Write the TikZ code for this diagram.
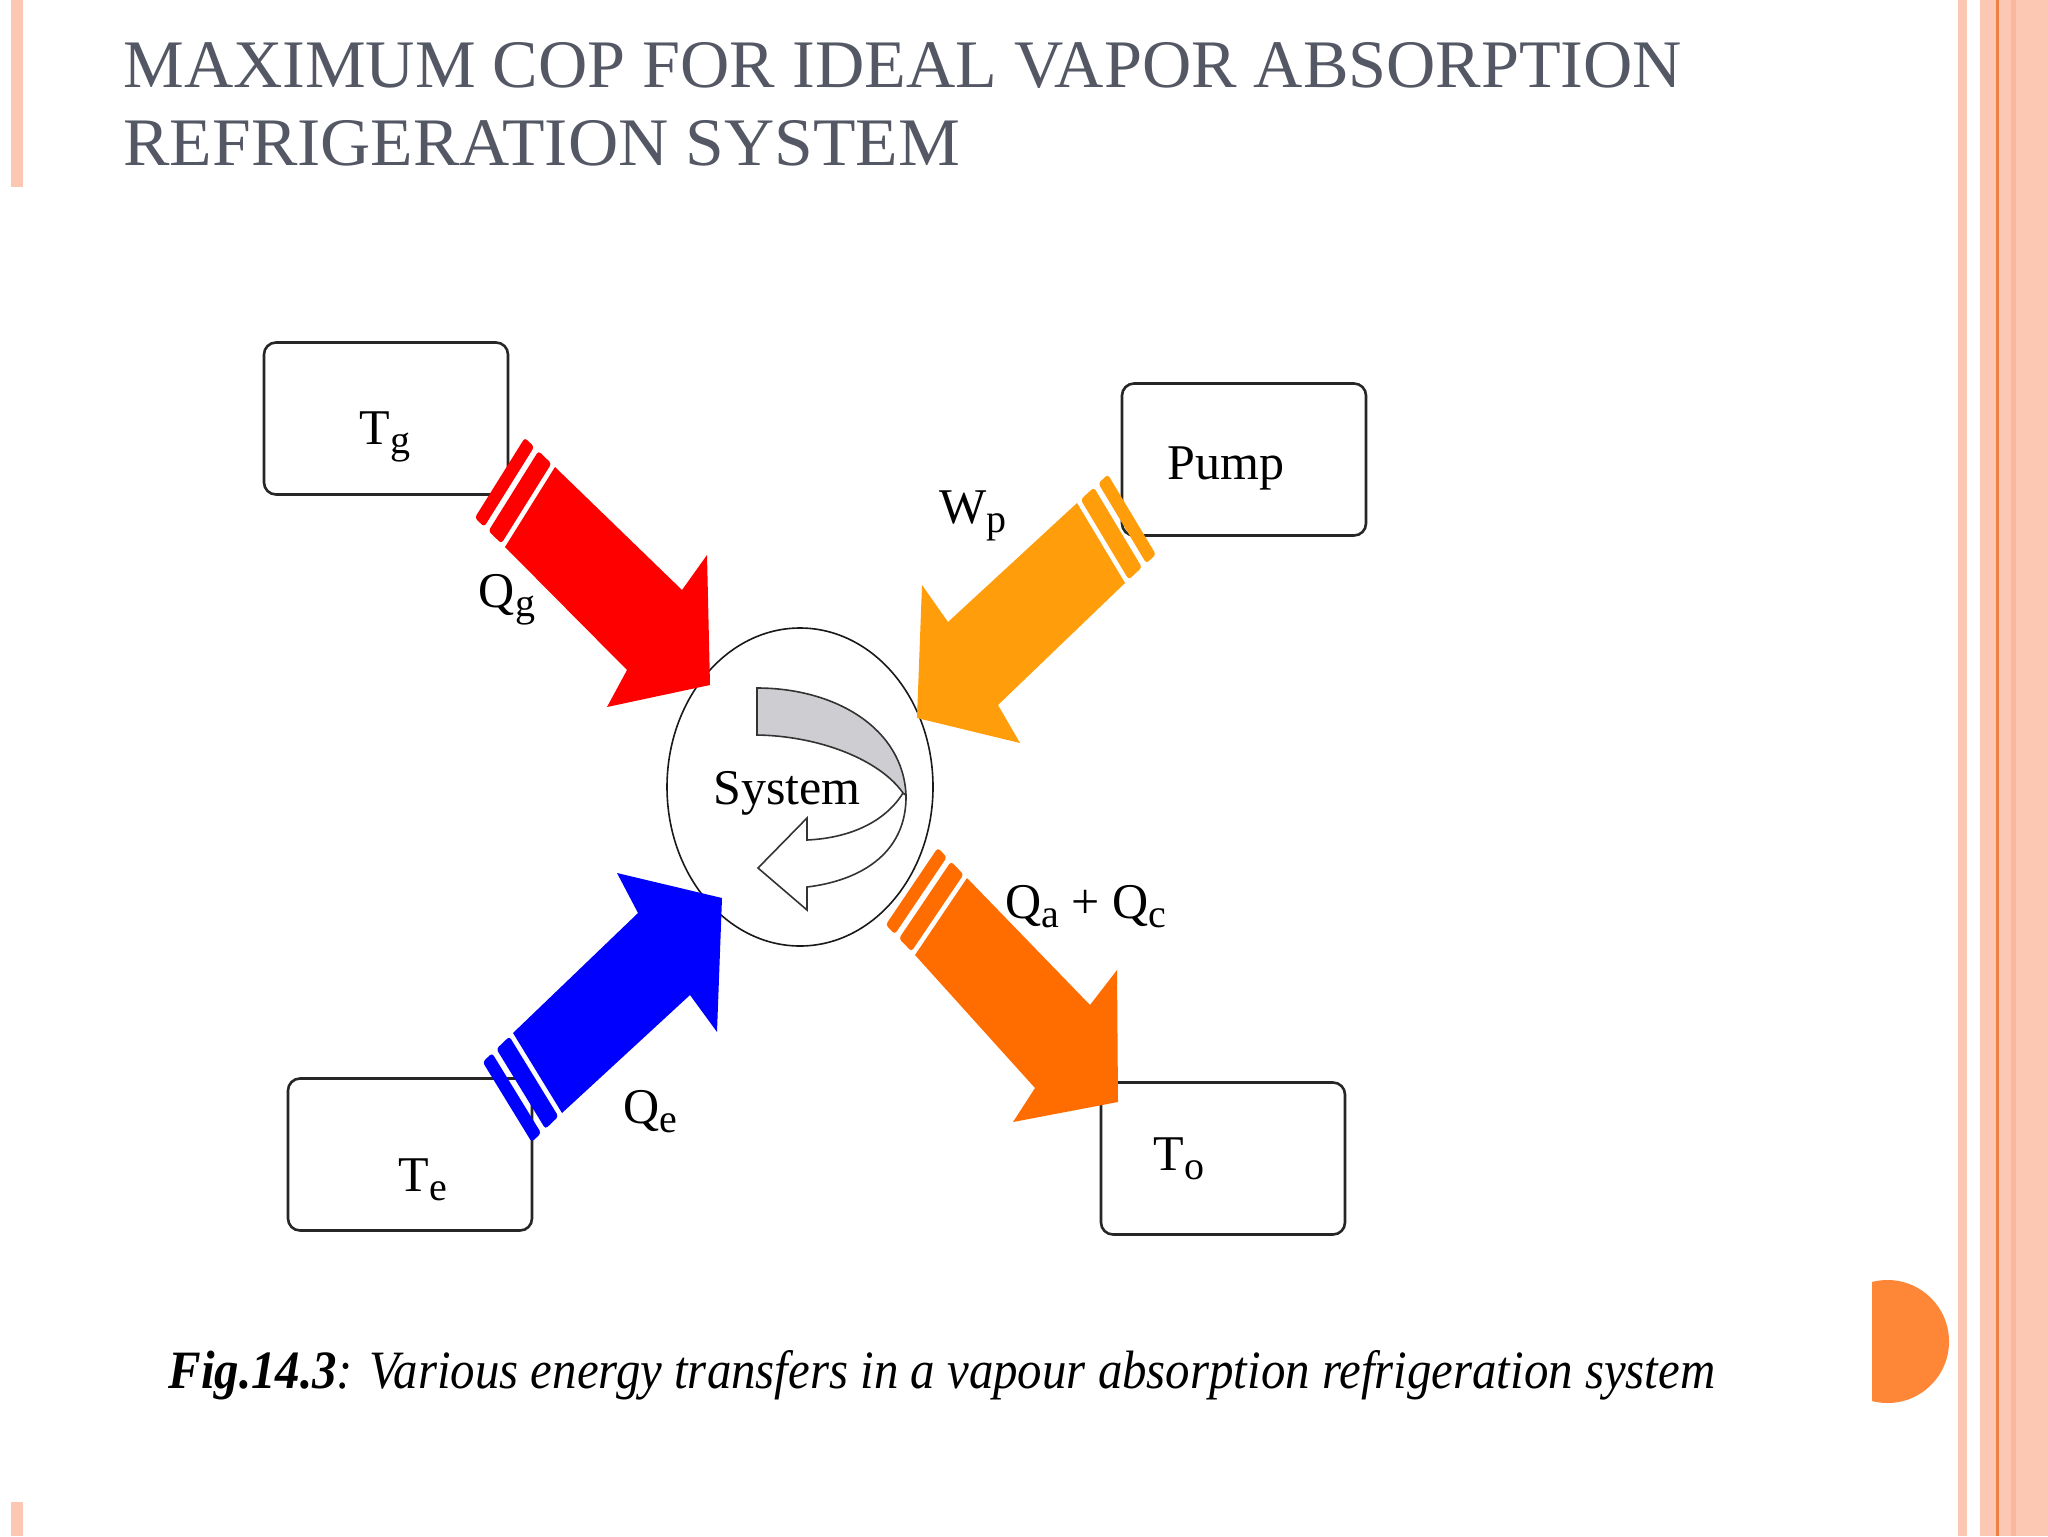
\documentclass[tikz,border=0pt]{standalone}
\usepackage{fontspec}
\setmainfont{Liberation Serif}
\usetikzlibrary{shapes.geometric,calc}
\definecolor{salmon}{RGB}{252,200,180}
\definecolor{salmondk}{RGB}{249,184,158}
\definecolor{orline}{RGB}{238,128,68}
\definecolor{dotor}{RGB}{253,134,55}
\definecolor{titlegray}{RGB}{84,87,100}
\definecolor{arRed}{RGB}{255,0,0}
\definecolor{arBlue}{RGB}{0,0,255}
\definecolor{arOrange}{RGB}{255,158,10}
\definecolor{arDark}{RGB}{255,108,0}
\definecolor{grayfill}{RGB}{205,205,210}
\newcommand\tailstripes[5]{%
 \fill[#5, rounded corners=1.5pt] ($(#1)+({-5*(#3)},{-5*(#4)})$) -- ($(#1)+({-23*(#3)},{-23*(#4)})$) -- ($(#2)+({-23*(#3)},{-23*(#4)})$) -- ($(#2)+({-5*(#3)},{-5*(#4)})$) -- cycle;
 \fill[#5, rounded corners=1.5pt] ($(#1)+({-29*(#3)},{-29*(#4)})$) -- ($(#1)+({-42*(#3)},{-42*(#4)})$) -- ($(#2)+({-42*(#3)},{-42*(#4)})$) -- ($(#2)+({-29*(#3)},{-29*(#4)})$) -- cycle;
}
\newcommand\subs[1]{\raisebox{-4.5pt}{\fontsize{20}{24}\selectfont #1}}
\tikzset{
 box/.style={draw=black!85, line width=1.3pt, rounded corners=6pt, minimum width=122pt, minimum height=76pt, inner sep=0pt},
 lbl/.style={font=\fontsize{25}{30}\selectfont, anchor=base, inner sep=0pt, text=black},
 titletext/.style={font=\fontsize{34}{40}\selectfont, anchor=base west, inner sep=0pt, text=titlegray},
}
\begin{document}
\begin{tikzpicture}[x=0.5pt,y=-0.5pt]
\useasboundingbox (0,0) rectangle (2048,1536);
\fill[white] (0,0) rectangle (2048,1536);
% slide decorations
\fill[salmon] (11,0) rectangle (23,187);
\fill[salmon] (11,1502) rectangle (23,1536);
\fill[salmon] (1958,0) rectangle (1967,1536);
\fill[salmon] (1980,0) rectangle (2048,1536);
\fill[salmondk] (2011,0) rectangle (2016,1536);
\fill[orline] (1996,0) rectangle (1998.5,1536);
\begin{scope}
 \clip (1872,1270) rectangle (1960,1415);
 \fill[dotor] (1887.5,1341.5) circle[radius=30.75pt];
\end{scope}
% title
\node[titletext] (title1) at (123,88) {\resizebox{779.5pt}{\height}{MAXIMUM COP FOR IDEAL VAPOR ABSORPTION}};
\node[titletext] (title2) at (123,165) {\resizebox{418.5pt}{\height}{REFRIGERATION SYSTEM}};
% boxes
\node[box] (tg) at (386,418.5) {};
\node[box] (pump) at (1244,459.5) {};
\node[box] (te) at (410,1154.5) {};
\node[box] (to) at (1223,1158.5) {};
% system ellipse
\node[ellipse, draw=black!90, line width=0.8pt, minimum width=133pt, minimum height=159pt, inner sep=0pt] (sys) at (800,787) {};
% cycle arrow inside
\filldraw[fill=white, draw=black!80, line width=0.8pt] (903,793) .. controls (885,822) and (850,838) .. (807,840) -- (807,818) -- (758,868) -- (807,910) -- (807,887) .. controls (865,880) and (907,850) .. (906,795) -- cycle;
\filldraw[fill=grayfill, draw=black!80, line width=0.8pt] (757,688) .. controls (835,688) and (903,728) .. (906,795) -- (903,793) .. controls (880,760) and (820,736) .. (757,735) -- cycle;
% red arrow Qg
\coordinate (rA) at (555,467); \coordinate (rB) at (505,547);
\fill[arRed] (rA) -- (682,590) -- (707,555) -- (710,685) -- (607,707) -- (627,670) -- (rB) -- cycle;
\tailstripes{rA}{rB}{0.718}{0.696}{arRed}
% orange arrow Wp
\coordinate (oA) at (1077,503); \coordinate (oB) at (1125,583);
\fill[arOrange] (oA) -- (948,622) -- (922,585) -- (917,718) -- (1020,743) -- (998,705) -- (oB) -- cycle;
\tailstripes{oA}{oB}{-0.735}{0.678}{arOrange}
% blue arrow Qe
\coordinate (bA) at (513,1033); \coordinate (bB) at (562,1113);
\fill[arBlue] (bA) -- (638,913) -- (617,873) -- (722,898) -- (717,1032) -- (690,995) -- (bB) -- cycle;
\tailstripes{bA}{bB}{0.721}{-0.692}{arBlue}
% dark orange arrow Qa+Qc
\coordinate (dA) at (967,878); \coordinate (dB) at (915,955);
\fill[arDark] (dA) -- (1090,1005) -- (1117,970) -- (1118,1102) -- (1013,1122) -- (1035,1088) -- (dB) -- cycle;
\tailstripes{dA}{dB}{0.696}{0.718}{arDark}
% labels
\node[lbl] (ltg) at (385,444) {T\subs{g}};
\node[lbl] (lpump) at (1226,479) {Pump};
\node[lbl] (lte) at (423,1191) {T\subs{e}};
\node[lbl] (lto) at (1179,1170) {T\subs{o}};
\node[lbl] (lqg) at (507,607) {Q\subs{g}};
\node[lbl] (lwp) at (973,523) {W\subs{p}};
\node[lbl] (lqe) at (650,1123) {Q\subs{e}};
\node[lbl] (lqac) at (1086,918) {Q\subs{a} + Q\subs{c}};
\node[lbl] (lsys) at (787,804) {System};
% caption
\node[anchor=base west, inner sep=0pt, font=\fontsize{27}{32}\selectfont\itshape] (cap) at (168,1388) {\resizebox{773.5pt}{\height}{\textbf{Fig.14.3}: Various energy transfers in a vapour absorption refrigeration system}};
\end{tikzpicture}
\end{document}
